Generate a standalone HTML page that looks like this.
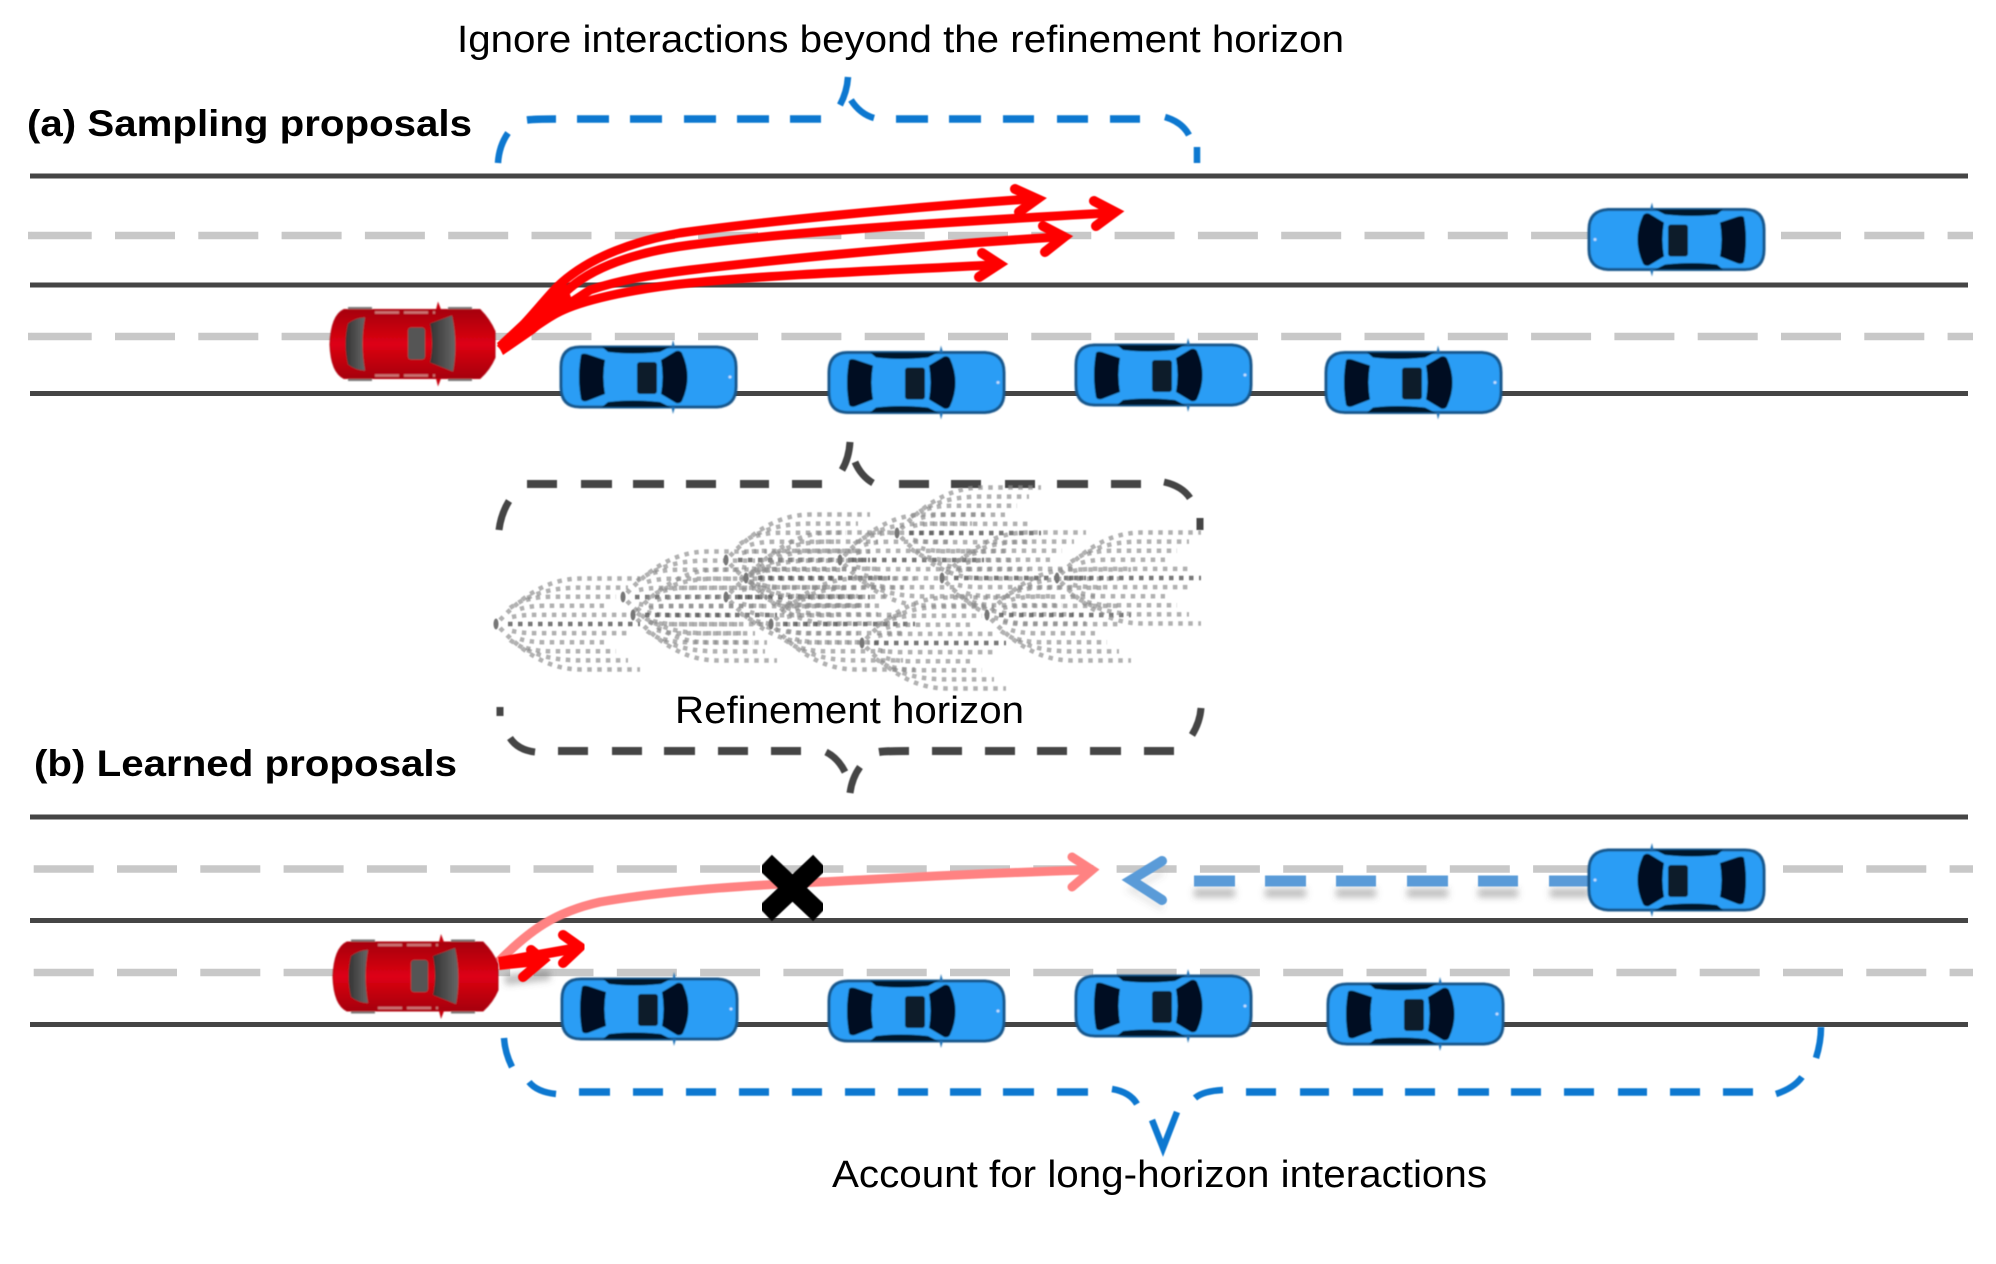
<!DOCTYPE html>
<html>
<head>
<meta charset="utf-8">
<title>Sampling vs learned proposals</title>
<style>
html,body{margin:0;padding:0;background:#fff;}
svg{display:block;}
text{font-family:"Liberation Sans",Arial,sans-serif;fill:#000;}
</style>
</head>
<body>
<svg width="1996" height="1264" viewBox="0 0 1996 1264" xmlns="http://www.w3.org/2000/svg">
<defs>
  <filter id="soft" x="-5%" y="-10%" width="110%" height="120%"><feGaussianBlur stdDeviation="0.8"/></filter>
  <filter id="soft2" x="-5%" y="-20%" width="110%" height="140%"><feGaussianBlur stdDeviation="0.55"/></filter>
  <filter id="shadow" x="-20%" y="-50%" width="140%" height="200%"><feGaussianBlur stdDeviation="3.500"/></filter>
  <linearGradient id="redbody" x1="0" y1="0" x2="0" y2="1">
    <stop offset="0" stop-color="#a5000e"/><stop offset="0.5" stop-color="#de0012"/><stop offset="1" stop-color="#a5000e"/>
  </linearGradient>
  <linearGradient id="redglass" x1="0" y1="0" x2="1" y2="0">
    <stop offset="0" stop-color="#333"/><stop offset="1" stop-color="#666"/>
  </linearGradient>

  <g id="blue">
    <path d="M20 2H157Q176 3 176 22V42Q176 61 157 62H20Q1 62 1 42V22Q1 2 20 2Z" fill="#2a9df5" stroke="#14568c" stroke-width="3"/>
    <path d="M42 2H110L100 7Q72 10 48 7Z" fill="#06142a"/>
    <path d="M42 62H110L100 57Q72 54 48 57Z" fill="#06142a"/>
    <path d="M21 10Q22 8 27 9L45 15Q42 32 45 49L27 56Q22 57 21 54Q17 32 21 10Z" fill="#050f20"/>
    <rect x="77" y="17" width="20" height="32" rx="3" fill="#0d1b2c"/>
    <path d="M101 15L116 6Q120 5 122 8Q133 32 122 56Q120 59 116 58L101 49Q104 32 101 15Z" fill="#050f20"/>
    <path d="M111.500 2L113 -5L115 2Z M111.500 62L113 69L115 62Z" fill="#1a6fb5"/>
    <circle cx="170" cy="32" r="1.400" fill="#cfe8ff"/>
  </g>

  <g id="red">
    <rect x="18" y="-0.500" width="24" height="3" fill="#777"/>
    <rect x="118" y="-0.500" width="24" height="3" fill="#777"/>
    <rect x="18" y="70.500" width="24" height="3" fill="#777"/>
    <rect x="118" y="70.500" width="24" height="3" fill="#777"/>
    <path d="M14 2H150Q160 12 165 24V50Q160 62 150 71H14Q1 65 0 37Q1 8 14 2Z" fill="url(#redbody)" stroke="#b3000e" stroke-width="1"/>
    <path d="M18 16Q26 10 35 10Q30 36 35 63Q26 63 18 57Q13 36 18 16Z" fill="url(#redglass)"/>
    <rect x="78" y="20" width="17" height="32" rx="3" fill="#555"/>
    <path d="M100 16L122 8Q128 36 123 64L100 55Q104 36 100 16Z" fill="url(#redglass)"/>
    <path d="M45 5H105M45 68H105" stroke="#c77" stroke-width="2.500" stroke-dasharray="24 5" fill="none"/>
    <path d="M106 2L108 -6L111 2Z M106 71L108 79L111 71Z" fill="#c80010"/>
  </g>

  <g id="tree" fill="none" stroke="#8c8c8c" stroke-opacity="0.68" stroke-width="4.500" stroke-dasharray="4.500 5.500">
    <path d="M4 -4C25 -26 50 -45.500 85 -45.500H144"/>
    <path d="M14 -16C32 -28 50 -36.400 85 -36.400H132"/>
    <path d="M30 -24Q42 -27.300 55 -27.300H120"/>
    <path d="M24 -15Q34 -18.200 48 -18.200H108"/>
    <path d="M16 -7Q26 -9.100 38 -9.100H135"/>
    <path d="M12 0H144" stroke="#555" stroke-opacity="0.8"/>
    <path d="M16 7Q26 9.100 38 9.100H135"/>
    <path d="M24 15Q34 18.200 48 18.200H108"/>
    <path d="M30 24Q42 27.300 55 27.300H120"/>
    <path d="M14 16C32 28 50 36.400 85 36.400H132"/>
    <path d="M4 4C25 26 50 45.500 85 45.500H144"/>
    <ellipse cx="0" cy="0" rx="2.500" ry="5.500" fill="#777" stroke="none"/>
  </g>
  <clipPath id="treeclip"><rect x="480" y="470" width="722" height="240"/></clipPath>
</defs>

<rect width="1996" height="1264" fill="#fff"/>

<!-- roads -->
<g stroke="#454545" stroke-width="5" fill="none">
  <path d="M30 176H1968M30 285H1968M30 393.500H1968"/>
  <path d="M30 817H1968M30 920.500H1968M30 1024.500H1968"/>
</g>
<g stroke="#c8c8c8" stroke-width="7.500" fill="none" stroke-dasharray="60 23.300">
  <path d="M31.700 235.500H1973"/>
  <path d="M31.700 336.500H1973"/>
  <path d="M33.700 869H1973"/>
  <path d="M33.700 972.500H1973"/>
</g>
<path d="M28 235.500H32M28 336.500H32" stroke="#c8c8c8" stroke-width="7.500"/>

<!-- blue brace top -->
<g fill="none" stroke="#0a78d0" stroke-width="7.500" filter="url(#soft2)">
  <path d="M498 163Q499 146 508 133" stroke-width="6.500"/>
  <path d="M527 120Q535 119 556 119M577 119H609M630 119H662M684 119H716M737 119H769M790 119H821"/>
  <path d="M848 77Q847 92 840 105M851 100Q860 114 874 118" stroke-width="6.500"/>
  <path d="M896 119H928M949 119H981M1003 119H1034M1057 119H1088M1110 119H1140"/>
  <path d="M1165 117Q1182 122 1189 135M1197 147V163" stroke-width="6.500"/>
</g>

<!-- red proposals (a) -->
<g fill="none" stroke="#ff0000" stroke-width="9" filter="url(#soft2)">
  <path d="M500 349C525 325 540 305 557 287C590 255 640 240 680 233C760 222 900 208 1030 199"/>
  <path d="M500 349C530 325 550 305 570 288C600 262 650 250 690 245C800 231 950 222 1108 213"/>
  <path d="M500 349C530 328 560 310 590 290C620 280 650 275 690 270C790 258 930 245 1058 237"/>
  <path d="M500 349C530 332 545 318 563 310C590 298 640 288 690 283C780 274 900 270 992 265"/>
  <path d="M1015 189L1037 199L1019 212M1094 201L1115 212L1096 226M1043 226L1064 237L1045 252M982 253L999 264L979 277" stroke-width="10" stroke-linecap="round" stroke-linejoin="miter"/>
  <path d="M497 343L540 303L565 280L572 300L535 333L503 355Z" fill="#ff0000" stroke="none"/>
</g>

<!-- dashed gray brace -->
<g fill="none" stroke="#444" stroke-width="8" filter="url(#soft2)">
  <path d="M499 530Q501 514 509 501" stroke-width="7"/>
  <path d="M527 484H557M581 484H612M633 484H664M686 484H716M740 484H769M792 484H822"/>
  <path d="M850 442Q849 458 842 470M855 462Q861 476 873 483" stroke-width="7"/>
  <path d="M899 484H929M951 484H981M1005 484H1035M1057 484H1088M1111 484H1141"/>
  <path d="M1164 482Q1182 486 1190 498M1200 518V530" stroke-width="7"/>
  <path d="M500 707V716M510 738Q518 750 535 752" stroke-width="7"/>
  <path d="M558 751H588M612 751H642M664 751H695M718 751H748M771 751H801"/>
  <path d="M826 752Q838 758 845 772M860 767Q852 778 850 793" stroke-width="7"/>
  <path d="M879 752Q885 751 909 751M932 751H962M985 751H1015M1037 751H1067M1090 751H1121M1144 751H1174"/>
  <path d="M1201 708Q1200 722 1192 735" stroke-width="7"/>
</g>

<!-- dotted trajectory trees -->
<g clip-path="url(#treeclip)" filter="url(#soft2)">
  <use href="#tree" transform="translate(496 624)"/>
  <use href="#tree" transform="translate(623 597)"/>
  <use href="#tree" transform="translate(633 615)"/>
  <use href="#tree" transform="translate(726 560)"/>
  <use href="#tree" transform="translate(726 597)"/>
  <use href="#tree" transform="translate(746 578)"/>
  <use href="#tree" transform="translate(771 624)"/>
  <use href="#tree" transform="translate(840 560)"/>
  <use href="#tree" transform="translate(862 643)"/>
  <use href="#tree" transform="translate(897 533)"/>
  <use href="#tree" transform="translate(942 578)"/>
  <use href="#tree" transform="translate(987 615)"/>
  <use href="#tree" transform="translate(1057 578)"/>
</g>

<!-- shadows (b) -->
<g fill="none" filter="url(#shadow)" stroke="#555" stroke-opacity="0.38">
  <path d="M1194 893H1235M1265 893H1306M1336 893H1376M1407 893H1448M1478 893H1518M1550 893H1590" stroke-width="9"/>
  <path d="M1163 872L1131 890L1163 908" stroke-width="6" stroke-opacity="0.15"/>
  <path d="M505 980L550 975" stroke-width="10"/>
</g>

<!-- pink arrow -->
<g fill="none" stroke="#ff8282" stroke-width="9" filter="url(#soft2)">
  <path d="M498 962C530 930 555 912 600 902C680 888 780 884 860 880C950 875 1020 872 1090 870"/>
  <path d="M1072 857L1092 870L1072 887" stroke-linecap="round"/>
</g>
<!-- small red arrows -->
<g fill="none" stroke="#ff0000" stroke-width="10" filter="url(#soft2)">
  <path d="M499 962L577 948"/>
  <path d="M499 965L538 961"/>
  <path d="M563 935L580 947L563 963" stroke-linecap="round"/>
  <path d="M531 950L543 960L523 977" stroke-linecap="round"/>
</g>

<!-- blue dashed arrow -->
<g fill="none" stroke="#5a9bd8" filter="url(#soft2)">
  <path d="M1194 881H1235M1265 881H1306M1336 881H1376M1407 881H1448M1478 881H1518M1549 881H1590" stroke-width="11"/>
  <path d="M1162 861L1131 880L1162 900" stroke-width="10" stroke-linecap="round"/>
</g>

<!-- X -->
<path d="M765 862L820 914M820 862L765 914" stroke="#000" stroke-width="20" fill="none" filter="url(#soft2)"/>

<!-- bottom blue brace -->
<g fill="none" stroke="#0a78d0" stroke-width="7.500" filter="url(#soft2)">
  <path d="M504 1038Q505 1053 512 1067M529 1082Q537 1092 556 1094" stroke-width="6.500"/>
  <path d="M579 1092H610M633 1092H663M686 1092H716M739 1092H769M792 1092H822M845 1092H875M898 1092H928M950 1092H981M1003 1092H1034M1057 1092H1088"/>
  <path d="M1112 1089Q1130 1092 1137 1104M1152 1120L1163 1148L1177 1112M1195 1098Q1203 1091 1223 1090" stroke-width="6.500"/>
  <path d="M1246 1092H1276M1300 1092H1329M1353 1092H1383M1405 1092H1435M1458 1092H1489M1511 1092H1541M1564 1092H1594M1618 1092H1647M1670 1092H1700M1723 1092H1753"/>
  <path d="M1776 1094Q1794 1088 1802 1077M1816 1058Q1821 1042 1821 1027" stroke-width="6.500"/>
</g>

<!-- cars (a) -->
<g filter="url(#soft)">
  <use href="#red" transform="translate(330 307.500)"/>
  <use href="#blue" transform="translate(560 345)"/>
  <use href="#blue" transform="translate(828 350.500)"/>
  <use href="#blue" transform="translate(1075 343)"/>
  <use href="#blue" transform="translate(1325 350.500)"/>
  <use href="#blue" transform="translate(1765 207.500) scale(-1 1)"/>
</g>
<!-- cars (b) -->
<g filter="url(#soft)">
  <use href="#red" transform="translate(333 940)"/>
  <use href="#blue" transform="translate(561 977)"/>
  <use href="#blue" transform="translate(828 979)"/>
  <use href="#blue" transform="translate(1075 974)"/>
  <use href="#blue" transform="translate(1327 982)"/>
  <use href="#blue" transform="translate(1765 848) scale(-1 1)"/>
</g>

<!-- labels -->
<text x="457" y="52" font-size="38" textLength="887" lengthAdjust="spacingAndGlyphs">Ignore interactions beyond the refinement horizon</text>
<text x="27" y="136" font-size="37" font-weight="bold" textLength="445" lengthAdjust="spacingAndGlyphs">(a) Sampling proposals</text>
<text x="675" y="723" font-size="38" textLength="349" lengthAdjust="spacingAndGlyphs">Refinement horizon</text>
<text x="34" y="776" font-size="37" font-weight="bold" textLength="423" lengthAdjust="spacingAndGlyphs">(b) Learned proposals</text>
<text x="832" y="1187" font-size="38" textLength="655" lengthAdjust="spacingAndGlyphs">Account for long-horizon interactions</text>
</svg>
</body>
</html>
